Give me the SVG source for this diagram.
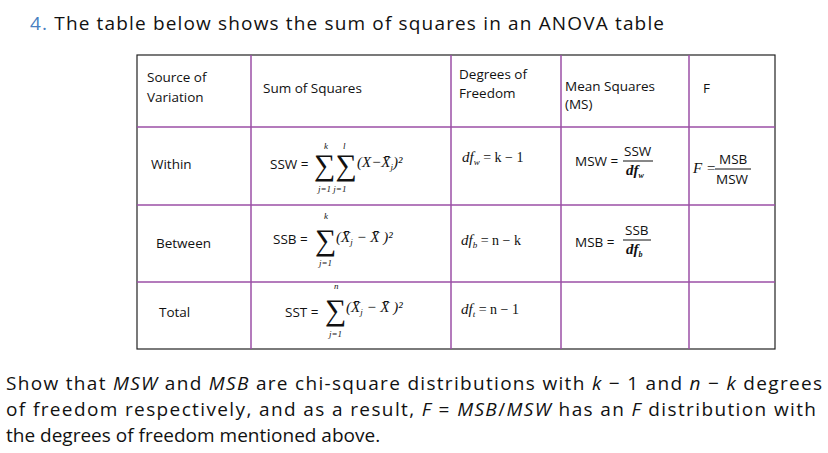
<svg xmlns="http://www.w3.org/2000/svg" width="828" height="453" viewBox="0 0 828 453">
<style>
.t{font-family:"Open Sans","Liberation Sans",sans-serif;fill:#111}
.c{font-family:"Open Sans","Liberation Sans",sans-serif;font-size:13.5px;fill:#111}
.m{font-family:"Liberation Serif",serif;font-size:14px;fill:#111}
.mi{font-family:"Liberation Serif",serif;font-style:italic;font-size:15px;fill:#111}
.s{font-family:"Liberation Serif",serif;font-size:9px;font-style:italic;fill:#111}
.sig{font-family:"Liberation Serif",serif;font-size:30px;fill:#111}
.p{stroke:#9b4fa6;stroke-width:1.5}
</style>
<rect width="828" height="453" fill="#fff"/>
<text class="t" x="30" y="30" font-size="19" textLength="634"><tspan fill="#4a7fc1">4.</tspan>  The table below shows the sum of squares in an ANOVA table</text>
<g id="table">
<rect x="137" y="55" width="638" height="294" fill="none" stroke="#222" stroke-width="1.2"/>
<line class="p" x1="251" y1="55" x2="251" y2="349" stroke-width="2.5"/>
<line class="p" x1="451" y1="55" x2="451" y2="349"/>
<line class="p" x1="561" y1="55" x2="561" y2="349"/>
<line class="p" x1="689" y1="55" x2="689" y2="349" stroke="#c49ad0"/>
<line class="p" x1="137" y1="127" x2="775" y2="127" stroke-width="3"/>
<line class="p" x1="137" y1="205" x2="775" y2="205"/>
<line class="p" x1="137" y1="282" x2="775" y2="282" stroke="#c49ad0"/>
</g>
<g id="header">
<text class="c" x="147" y="82">Source of</text><text class="c" x="147" y="102">Variation</text>
<text class="c" x="263" y="93">Sum of Squares</text>
<text class="c" x="459" y="79">Degrees of</text><text class="c" x="459" y="98">Freedom</text>
<text class="c" x="565" y="91">Mean Squares</text><text class="c" x="565" y="109">(MS)</text>
<text class="c" x="703" y="93">F</text>
</g>
<g id="within">
<text class="c" x="151" y="169">Within</text>
<text class="c" x="270" y="169">SSW =</text>
<text class="sig" x="314" y="175">∑∑</text>
<text class="s" x="324" y="149">k</text><text class="s" x="343" y="149">l</text>
<text class="s" x="318" y="192">j=1 j=1</text>
<text class="mi" x="357" y="167">(X−X̄<tspan font-size="9" dy="3">j</tspan><tspan dy="-3">)²</tspan></text>
<text class="mi" x="462" y="162">df<tspan font-size="9" dy="3">w</tspan><tspan class="m" font-style="normal" dy="-3"> = k − 1</tspan></text>
<text class="c" x="575" y="166">MSW =</text>
<text class="c" x="624" y="156">SSW</text>
<line x1="623" y1="161" x2="653" y2="161" stroke="#111"/>
<text class="mi" x="626" y="175" font-weight="bold">df<tspan font-size="8" dy="3">w</tspan></text>
<text class="mi" x="693" y="173">F =</text>
<text class="c" x="719" y="164">MSB</text>
<line x1="715" y1="169" x2="751" y2="169" stroke="#111"/>
<text class="c" x="716" y="184">MSW</text>
</g>
<g id="between">
<text class="c" x="156" y="248">Between</text>
<text class="c" x="273" y="244">SSB =</text>
<text class="sig" x="315" y="250">∑</text>
<text class="s" x="324" y="219">k</text><text class="s" x="319" y="266">j=1</text>
<text class="mi" x="336" y="242">(X̄<tspan font-size="9" dy="3">j</tspan><tspan dy="-3"> − X̄ )²</tspan></text>
<text class="mi" x="461" y="245">df<tspan font-size="9" dy="3">b</tspan><tspan class="m" font-style="normal" dy="-3"> = n − k</tspan></text>
<text class="c" x="575" y="247">MSB =</text>
<text class="c" x="625" y="235">SSB</text>
<line x1="623" y1="240" x2="651" y2="240" stroke="#111"/>
<text class="mi" x="626" y="254" font-weight="bold">df<tspan font-size="8" dy="3">b</tspan></text>
</g>
<g id="total">
<text class="c" x="159" y="317">Total</text>
<text class="c" x="285" y="317">SST =</text>
<text class="sig" x="325" y="320">∑</text>
<text class="s" x="334" y="289">n</text><text class="s" x="329" y="337">j=1</text>
<text class="mi" x="346" y="312">(X̄<tspan font-size="9" dy="3">j</tspan><tspan dy="-3"> − X̄ )²</tspan></text>
<text class="mi" x="461" y="314">df<tspan font-size="9" dy="3">t</tspan><tspan class="m" font-style="normal" dy="-3"> = n − 1</tspan></text>
</g>
<g id="para" class="t" font-size="19">
<text x="6" y="390" textLength="816">Show that <tspan font-style="italic">MSW</tspan> and <tspan font-style="italic">MSB</tspan> are chi-square distributions with <tspan font-style="italic">k</tspan> − 1 and <tspan font-style="italic">n</tspan> − <tspan font-style="italic">k</tspan> degrees</text>
<text x="6" y="416" textLength="810">of freedom respectively, and as a result, <tspan font-style="italic">F</tspan> = <tspan font-style="italic">MSB</tspan>/<tspan font-style="italic">MSW</tspan> has an <tspan font-style="italic">F</tspan> distribution with</text>
<text x="6" y="442">the degrees of freedom mentioned above.</text>
</g>
</svg>
